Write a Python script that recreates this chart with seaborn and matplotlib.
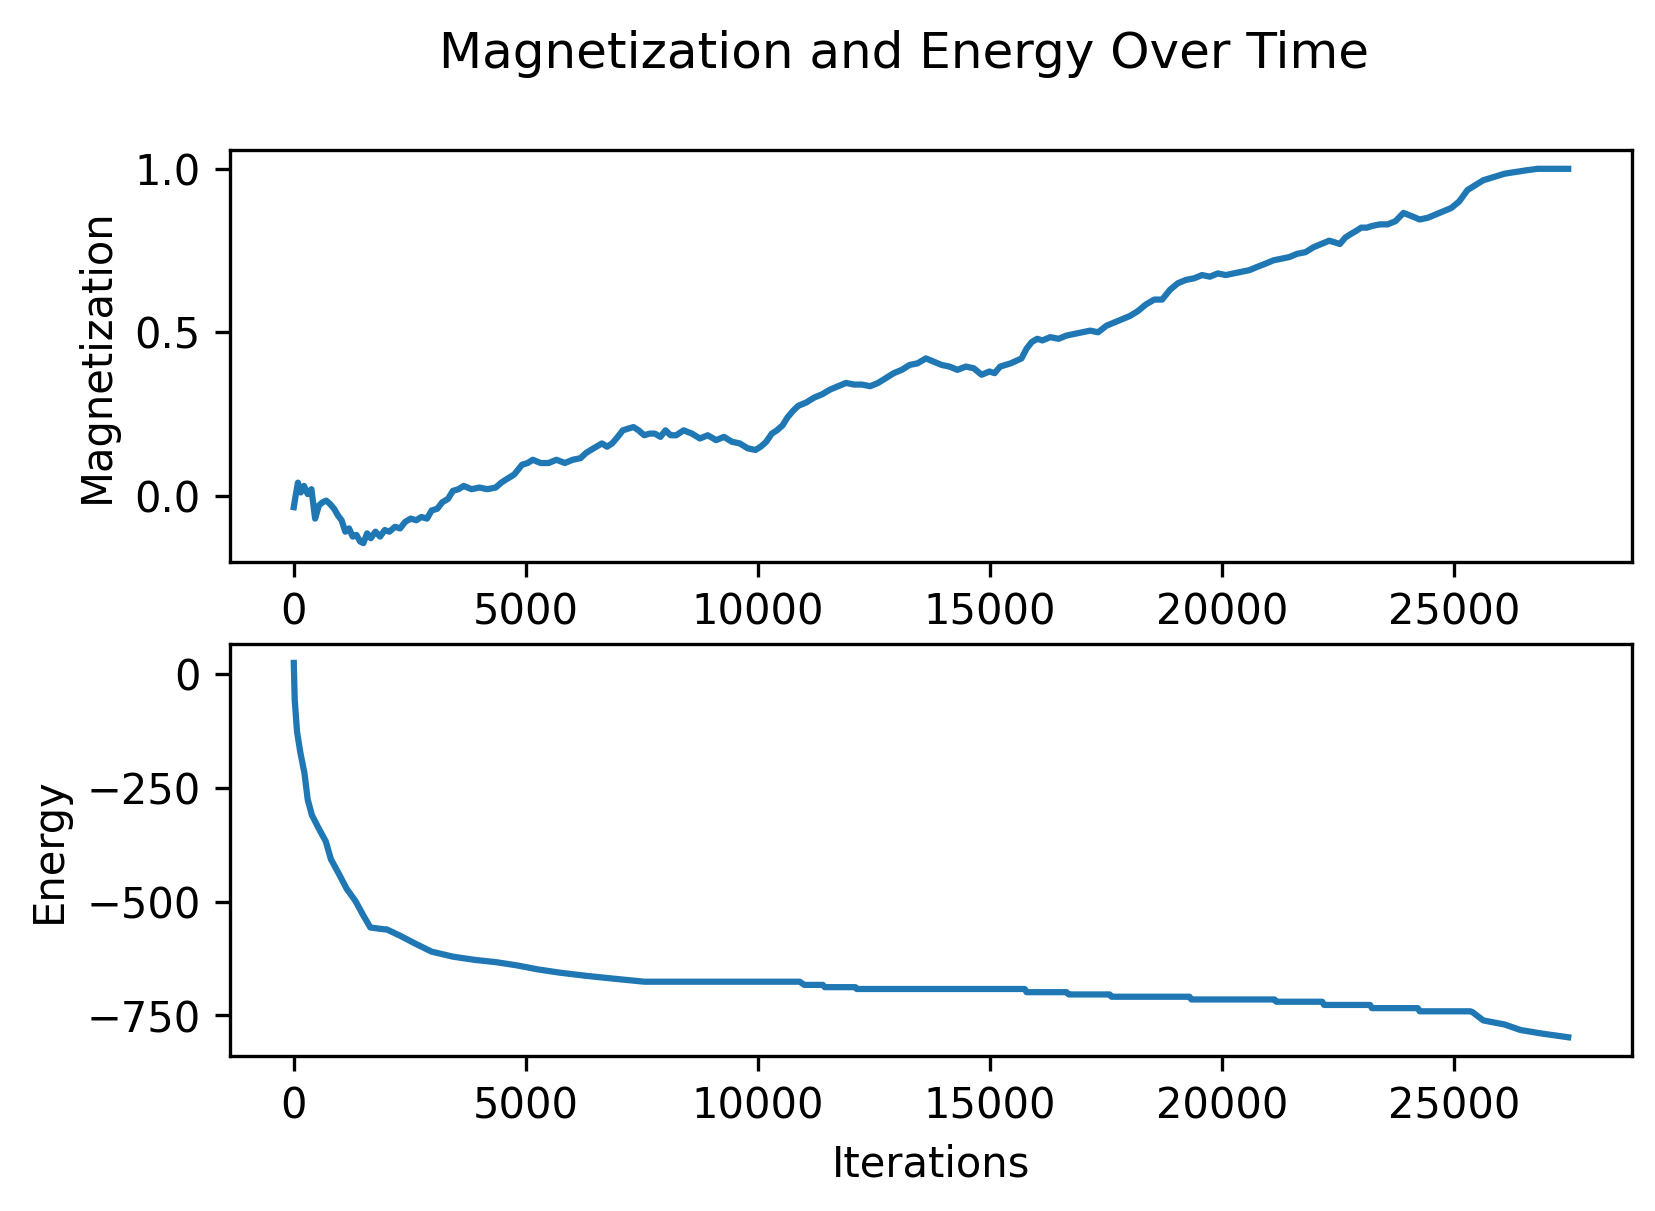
import pandas as pd
import numpy as np
import matplotlib.pyplot as plt
import seaborn as sns

# magnetization (iteration, value), groups of 10
mag_iter = [0, 40, 90, 150, 220, 300, 380, 460, 540, 620,
            700, 780, 870, 950, 1030, 1110, 1190, 1270, 1350, 1430,
            1500, 1580, 1660, 1760, 1860, 1960, 2060, 2180, 2290, 2400,
            2520, 2640, 2750, 2870, 2970, 3090, 3200, 3320, 3430, 3550,
            3660, 3830, 4000, 4170, 4350, 4470, 4580, 4750, 4920, 5040,
            5150, 5320, 5490, 5660, 5840, 6010, 6180, 6290, 6400, 6520,
            6640, 6750, 6860, 6980, 7090, 7200, 7320, 7430, 7550, 7670,
            7780, 7900, 8010, 8120, 8240, 8400, 8580, 8750, 8920, 9100,
            9270, 9440, 9610, 9780, 9950, 10060, 10180, 10300, 10410, 10530,
            10640, 10760, 10870, 11040, 11210, 11380, 11560, 11730, 11900, 12070,
            12240, 12420, 12590, 12760, 12930, 13100, 13270, 13440, 13620, 13790,
            13960, 14130, 14300, 14480, 14650, 14820, 14990, 15100, 15220, 15450,
            15680, 15790, 15900, 16020, 16130, 16300, 16480, 16650, 16820, 16990,
            17160, 17330, 17510, 17680, 17850, 18020, 18190, 18360, 18540, 18710,
            18880, 19050, 19220, 19400, 19570, 19740, 19910, 20080, 20250, 20420,
            20590, 20760, 20940, 21110, 21280, 21450, 21620, 21800, 21970, 22140,
            22310, 22430, 22540, 22660, 22770, 22890, 23000, 23120, 23230, 23400,
            23570, 23740, 23910, 24090, 24260, 24430, 24600, 24770, 24940, 25110,
            25290, 25460, 25630, 25860, 26090, 26310, 26540, 26800, 27100, 27460]
mag_vals = [-0.035, 0.0, 0.04, 0.01, 0.03, 0.005, 0.02, -0.07, -0.03, -0.02,
            -0.015, -0.025, -0.04, -0.06, -0.075, -0.11, -0.1, -0.125, -0.12, -0.14,
            -0.145, -0.115, -0.13, -0.11, -0.125, -0.105, -0.11, -0.095, -0.1, -0.08,
            -0.07, -0.075, -0.065, -0.07, -0.045, -0.04, -0.02, -0.01, 0.015, 0.02,
            0.03, 0.02, 0.025, 0.02, 0.025, 0.04, 0.05, 0.065, 0.095, 0.1,
            0.11, 0.1, 0.1, 0.11, 0.1, 0.11, 0.115, 0.13, 0.14, 0.15,
            0.16, 0.15, 0.16, 0.18, 0.2, 0.205, 0.21, 0.2, 0.185, 0.19,
            0.19, 0.18, 0.2, 0.185, 0.185, 0.2, 0.19, 0.175, 0.185, 0.17,
            0.18, 0.165, 0.16, 0.145, 0.14, 0.15, 0.165, 0.19, 0.2, 0.215,
            0.24, 0.26, 0.275, 0.285, 0.3, 0.31, 0.325, 0.335, 0.345, 0.34,
            0.34, 0.335, 0.345, 0.36, 0.375, 0.385, 0.4, 0.405, 0.42, 0.41,
            0.4, 0.395, 0.385, 0.395, 0.39, 0.37, 0.38, 0.375, 0.395, 0.405,
            0.42, 0.45, 0.47, 0.48, 0.475, 0.485, 0.48, 0.49, 0.495, 0.5,
            0.505, 0.5, 0.52, 0.53, 0.54, 0.55, 0.565, 0.585, 0.6, 0.6,
            0.63, 0.65, 0.66, 0.665, 0.675, 0.67, 0.68, 0.675, 0.68, 0.685,
            0.69, 0.7, 0.71, 0.72, 0.725, 0.73, 0.74, 0.745, 0.76, 0.77,
            0.78, 0.775, 0.77, 0.79, 0.8, 0.81, 0.82, 0.82, 0.825, 0.83,
            0.83, 0.84, 0.865, 0.855, 0.845, 0.85, 0.86, 0.87, 0.88, 0.9,
            0.935, 0.95, 0.965, 0.975, 0.985, 0.99, 0.995, 1.0, 1.0, 1.0]

# energy, plateau ends included
energy_iter = [0, 20, 70, 140, 230, 300, 390, 530, 690, 800,
               960, 1140, 1330, 1490, 1650, 1950, 2000, 2290, 2630, 2970,
               3430, 3890, 4350, 4800, 5260, 5720, 6290, 6860, 7550, 10900,
               11000, 11400, 11440, 12100, 12130, 15750, 15790, 16650, 16700, 17580,
               17620, 19300, 19340, 21130, 21170, 22160, 22200, 23190, 23230, 24220,
               24260, 25350, 25400, 25630, 26090, 26430, 26900, 27460]
energy_vals = [24, -57, -127, -172, -218, -276, -310, -338, -368, -407,
               -437, -472, -499, -529, -557, -561, -561, -575, -593, -610,
               -621, -628, -633, -640, -649, -656, -663, -669, -676, -676,
               -683, -683, -688, -688, -692, -692, -699, -699, -704, -704,
               -709, -709, -715, -715, -720, -720, -727, -727, -734, -734,
               -741, -741, -743, -761, -770, -782, -790, -798]

df_mag = pd.DataFrame({'Iterations': mag_iter, 'Magnetization': mag_vals})
df_energy = pd.DataFrame({'Iterations': energy_iter, 'Energy': energy_vals})

fig = plt.figure(figsize=(5.517, 4.037), dpi=300)
ax1, ax2 = fig.subplots(2, 1)
plt.subplots_adjust(left=0.139, right=0.986, top=0.876, bottom=0.128, hspace=0.2)

sns.lineplot(x='Iterations', y='Magnetization', data=df_mag, ax=ax1, color='#1f77b4', linewidth=1.5)
ax1.set_xlabel('')

sns.lineplot(x='Iterations', y='Energy', data=df_energy, ax=ax2, color='#1f77b4', linewidth=1.5)

fig.suptitle('Magnetization and Energy Over Time', x=0.546, y=0.975, fontsize=12)
fig.savefig('out.png', dpi=300)
